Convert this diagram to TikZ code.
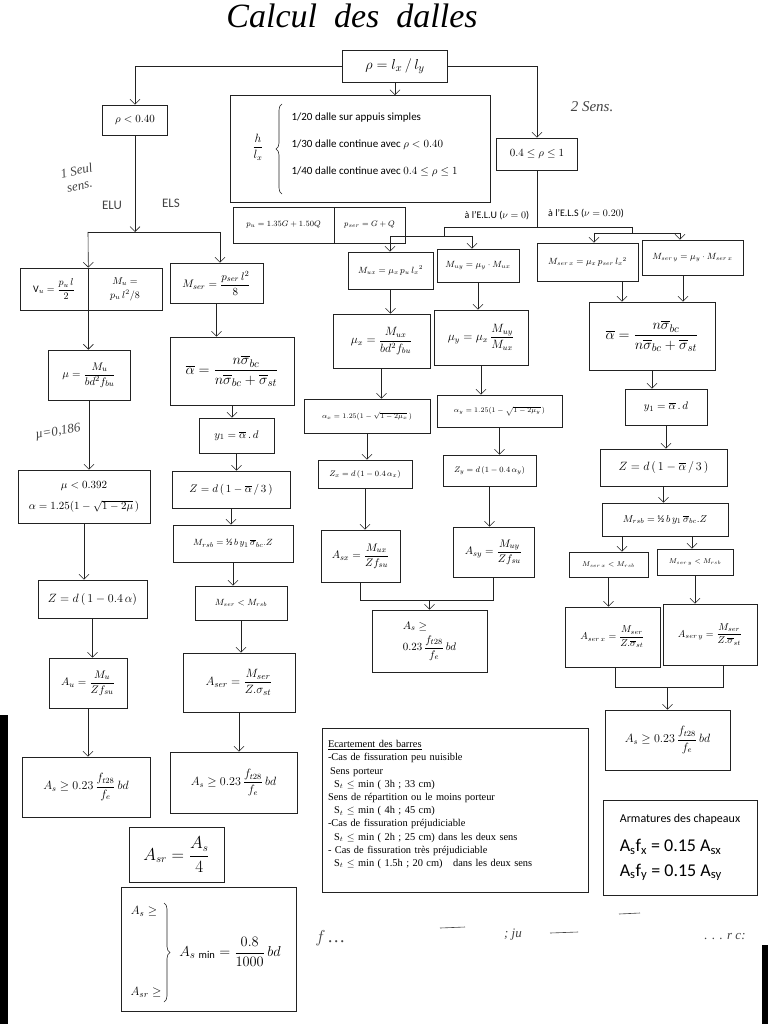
\documentclass[tikz,border=0pt]{standalone}
\usepackage{amsmath,amssymb}
\usepackage{fontspec}
\setmainfont{Carlito}
\newfontfamily\hand{Liberation Serif}
\newfontfamily\ecfont{Liberation Serif}
\usepackage{tikz}
\usepackage{xcolor}
\usetikzlibrary{arrows.meta,positioning,decorations.pathreplacing}
\definecolor{ink}{HTML}{222222}
\definecolor{pencil}{HTML}{444444}
\newcommand{\fs}[1]{\fontsize{#1}{#1}\selectfont}

\tikzset{
  box/.style={draw=ink,line width=0.7pt,inner sep=2pt,align=center,font=\fs{10}},
  arr/.style={draw=ink,line width=0.6pt,-{Straight Barb[length=5pt,width=10pt]}},
  wire/.style={draw=ink,line width=0.6pt},
  note/.style={font=\hand\itshape\fs{13},text=pencil},
  brc/.style={draw=ink,line width=0.6pt,decorate,decoration={brace,amplitude=6pt}}
}

\begin{document}
\begin{tikzpicture}[x=1pt,y=-1pt]
\useasboundingbox (0,0) rectangle (768,1024);
\fill[white] (0,0) rectangle (768,1024);
% scan edges
\fill[black] (0,715) rectangle (8,1024);
\fill[black] (762,945) rectangle (768,1024);

% title and top split
\node (title) at (352,16) [font=\hand\itshape\fs{34}] {Calcul\ \ des\ \ dalles};
\node (rho) at (395,66) [box,minimum width=105,minimum height=32,font=\fs{15}] {$\rho = l_x\,/\,l_y$};
\node (rhoA) at (135,120) [box,minimum width=65,minimum height=30,font=\fs{11}] {$\rho < 0.40$};
\node (rhoB) at (537,154) [box,minimum width=81,minimum height=32,font=\fs{11}] {$0.4 \leq \rho \leq 1$};
\node (hlx) at (360,149) [box,minimum width=260,minimum height=107] {};
\node (hfrac) at (258,147) [font=\fs{12}] {$\dfrac{h}{l_x}$};
\draw[brc] (282,194) -- (282,104);
\node (h20) at (288,118) [anchor=west,font=\fs{11}] {1/20 dalle sur appuis simples};
\node (h30) at (288,145) [anchor=west,font=\fs{11}] {1/30 dalle continue avec $\rho<0.40$};
\node (h40) at (288,172) [anchor=west,font=\fs{11}] {1/40 dalle continue avec $0.4\leq\rho\leq1$};
\node (pu) at (283.5,225) [box,minimum width=101,minimum height=36,font=\fs{8}] {$p_u = 1.35G + 1.50Q$};
\node (pser) at (369.5,225) [box,minimum width=71,minimum height=36,font=\fs{8}] {$p_{ser} = G + Q$};

\node (n1) at (78,178) [note,rotate=12,align=center] {1 Seul\\[2pt] sens.};
\node (n2) at (592,107) [note,font=\hand\itshape\fs{15}] {2 Sens.};
\node (elu) at (112,205) [font=\fs{13},text=pencil] {ELU};
\node (els) at (171,203) [font=\fs{13},text=pencil] {ELS};
\node (lelu) at (497,216) [font=\fs{10}] {à l'E.L.U ($\nu = 0$)};
\node (lels) at (586,214) [font=\fs{10}] {à l'E.L.S ($\nu = 0.20$)};

\draw[arr] (rho.west) -| (rhoA.north);
\draw[arr] (rho.east) -| (rhoB.north);
\draw[arr] (rho.south) -- (rho.south |- hlx.north);

% one way slab
\node (vu) at (54,289) [box,minimum width=68,minimum height=42] {$\mathrm{V}_u = \dfrac{p_u\,l}{2}$};
\node (mu) at (125,289) [box,minimum width=74,minimum height=42] {$M_u =$\\[4pt] $p_u\,l^2/8$};
\node (mser) at (216.5,283) [box,minimum width=93,minimum height=40,font=\fs{11}] {$M_{ser} = \dfrac{p_{ser}\,l^2}{8}$};

\coordinate (sl) at (88,232);
\coordinate (sr) at (220,232);
\draw[arr] (rhoA.south) -- (rhoA.south |- sl);
\draw[wire] (sl) -- (sr);
\draw[arr] (sl) -- (vu.north east);
\draw[arr] (sr) -- (sr |- mser.north);

\node (mured) at (89,375) [box,minimum width=82,minimum height=50,font=\fs{11}] {$\mu = \dfrac{M_u}{b d^2 f_{bu}}$};
\node (mulim) at (84,496.5) [box,minimum width=132,minimum height=53,font=\fs{10.5}] {$\mu < 0.392$\\[9pt] $\alpha = 1.25(1 - \sqrt{1-2\mu}\,)$};
\node (zu) at (92.5,599) [box,minimum width=109,minimum height=38,font=\fs{12}] {$Z = d\,(\,1 - 0.4\,\alpha)$};
\node (au) at (88,683) [box,minimum width=78,minimum height=50,font=\fs{11}] {$A_u = \dfrac{M_u}{Z f_{su}}$};
\node (asminL) at (86,787) [box,minimum width=128,minimum height=60,font=\fs{12}] {$A_s \geq 0.23\,\dfrac{f_{t28}}{f_e}\,bd$};
\node (n3) at (58,432) [note,rotate=10] {µ=0,186};

\draw[arr] (vu.south east) -- (vu.south east |- mured.north);
\draw[arr] (mured.south) -- (mured.south |- mulim.north);
\draw[arr] (mulim.south) -- (mulim.south |- zu.north);
\draw[arr] (zu.south) -- (zu.south |- au.north);
\draw[arr] (au.south) -- (au.south |- asminL.north);

\node (alpha) at (232,371) [box,minimum width=124,minimum height=68,font=\fs{15}] {$\overline{\alpha} = \dfrac{n\overline{\sigma}_{bc}}{n\overline{\sigma}_{bc} + \overline{\sigma}_{st}}$};
\node (y1) at (236.5,435.5) [box,minimum width=75,minimum height=35,font=\fs{11}] {$y_1 = \overline{\alpha}\,.\,d$};
\node (zs) at (231,489.5) [box,minimum width=118,minimum height=37,font=\fs{11}] {$Z = d\,(\,1 - \overline{\alpha}\,/\,3\,)$};
\node (mrsb) at (233,543.5) [box,minimum width=120,minimum height=37,font=\fs{9.5}] {$M_{rsb} = \text{½}\, b\, y_1\, \overline{\sigma}_{bc}.Z$};
\node (cmp) at (241,603) [box,minimum width=92,minimum height=34,font=\fs{9}] {$M_{ser} < M_{rsb}$};
\node (aser) at (239,682.5) [box,minimum width=112,minimum height=59,font=\fs{13}] {$A_{ser} = \dfrac{M_{ser}}{Z.\sigma_{st}}$};
\node (asminS) at (233.5,782.5) [box,minimum width=127,minimum height=61,font=\fs{12}] {$A_s \geq 0.23\,\dfrac{f_{t28}}{f_e}\,bd$};

\draw[arr] (mser.south) -- (mser.south |- alpha.north);
\draw[arr] (alpha.south) -- (alpha.south |- y1.north);
\draw[arr] (y1.south) -- (y1.south |- zs.north);
\draw[arr] (zs.south) -- (zs.south |- mrsb.north);
\draw[arr] (mrsb.south) -- (mrsb.south |- cmp.north);
\draw[arr] (cmp.south) -- (cmp.south |- aser.north);
\draw[arr] (aser.south) -- (aser.south |- asminS.north);

\node (asr) at (176.5,854.5) [box,minimum width=95,minimum height=55,font=\fs{16}] {$A_{sr} = \dfrac{A_s}{4}$};
\node (asmin) at (208.5,949) [box,minimum width=175,minimum height=124] {};
\node (asmtop) at (144,911) [font=\fs{13}] {$A_s \geq$};
\node (asmbot) at (146,992) [font=\fs{13}] {$A_{sr} \geq$};
\draw[brc] (164,903) -- (164,1002);
\node (asmf) at (230,952) [font=\fs{15}] {$A_{s\,\min} = \dfrac{0.8}{1000}\,bd$};

% two way slab, ELU
\node (mux) at (390.5,270.5) [box,minimum width=85,minimum height=37,font=\fs{9}] {$M_{ux} = \mu_x\, p_u\, {l_x}^2$};
\node (muy) at (478,265.5) [box,minimum width=82,minimum height=33,font=\fs{9}] {$M_{uy} = \mu_y \cdot M_{ux}$};
\coordinate (tl) at (444,227);
\coordinate (tr) at (632,227);
\coordinate (mbl) at (390,236);
\coordinate (mbr) at (472,236);
\draw[wire] (rhoB.south) -- (rhoB.south |- tl);
\draw[wire] (tl) -- (tr);
\draw[wire] (tl) -- (tl |- mbl);
\draw[wire] (mbl) -- (mbr);
\draw[arr] (mbl) -- (mbl |- mux.north);
\draw[arr] (mbr) -- (mbr |- muy.north);

\node (mux2) at (381.5,341) [box,minimum width=97,minimum height=54,font=\fs{11.5}] {$\mu_x = \dfrac{M_{ux}}{b d^2 f_{bu}}$};
\node (muy2) at (481,337.5) [box,minimum width=94,minimum height=55,font=\fs{12}] {$\mu_y = \mu_x\,\dfrac{M_{uy}}{M_{ux}}$};
\node (alx) at (367,416) [box,minimum width=126,minimum height=34,font=\fs{7.5}] {$\alpha_x = 1.25(1 - \sqrt{1-2\mu_x}\,)$};
\node (aly) at (499.5,411) [box,minimum width=125,minimum height=32,font=\fs{7.5}] {$\alpha_y = 1.25(1 - \sqrt{1-2\mu_y}\,)$};
\node (zx) at (365,474) [box,minimum width=94,minimum height=28,font=\fs{8}] {$Z_x = d\,(1 - 0.4\,\alpha_x)$};
\node (zy) at (489.5,470.5) [box,minimum width=93,minimum height=31,font=\fs{8}] {$Z_y = d\,(1 - 0.4\,\alpha_y)$};
\node (asx) at (360.5,556) [box,minimum width=79,minimum height=52,font=\fs{11}] {$A_{sx} = \dfrac{M_{ux}}{Z f_{su}}$};
\node (asy) at (493.5,552) [box,minimum width=81,minimum height=50,font=\fs{11}] {$A_{sy} = \dfrac{M_{uy}}{Z f_{su}}$};
\node (asminM) at (429.5,641) [box,minimum width=115,minimum height=62,align=left,font=\fs{11}] {$A_s \geq$\\[4pt] $0.23\,\dfrac{f_{t28}}{f_e}\,bd$};

\draw[arr] (mux.south) -- (mux.south |- mux2.north);
\draw[arr] (muy.south) -- (muy.south |- muy2.north);
\draw[arr] (mux2.south) -- (mux2.south |- alx.north);
\draw[arr] (muy2.south) -- (muy2.south |- aly.north);
\draw[arr] (alx.south) -- (alx.south |- zx.north);
\draw[arr] (aly.south) -- (aly.south |- zy.north);
\draw[arr] (zx.south) -- (zx.south |- asx.north);
\draw[arr] (zy.south) -- (zy.south |- asy.north);
\draw[wire] (asx.south) -- ++(0,18) coordinate (jm) -| (asy.south);
\draw[arr] (asminM.north |- jm) -- (asminM.north);

% two way slab, ELS
\node (mserx) at (587.5,262) [box,minimum width=101,minimum height=38,font=\fs{9}] {$M_{ser\,x} = \mu_x\, p_{ser}\, {l_x}^2$};
\node (msery) at (692.5,257.5) [box,minimum width=101,minimum height=35,font=\fs{9}] {$M_{ser\,y} = \mu_y \cdot M_{ser\,x}$};
\coordinate (rbl) at (594,233);
\coordinate (rbr) at (680,233);
\draw[wire] (tr) -- (tr |- rbl);
\draw[wire] (rbl) -- (rbr);
\draw[arr] (rbl) -- (rbl |- mserx.north);
\draw[arr] (rbr) -- (rbr |- msery.north);

\node (alphaR) at (652,336) [box,minimum width=126,minimum height=68,font=\fs{15}] {$\overline{\alpha} = \dfrac{n\overline{\sigma}_{bc}}{n\overline{\sigma}_{bc} + \overline{\sigma}_{st}}$};
\node (y1R) at (666,407) [box,minimum width=82,minimum height=36,font=\fs{11}] {$y_1 = \overline{\alpha}\,.\,d$};
\node (zR) at (663.5,467.5) [box,minimum width=127,minimum height=37,font=\fs{13}] {$Z = d\,(\,1 - \overline{\alpha}\,/\,3\,)$};
\node (mrsbR) at (665,519.5) [box,minimum width=126,minimum height=33,font=\fs{10}] {$M_{rsb} = \text{½}\, b\, y_1\, \overline{\sigma}_{bc}.Z$};
\node (cmpx) at (608.5,564.5) [box,minimum width=79,minimum height=25,font=\fs{7.5}] {$M_{ser\,x} < M_{rsb}$};
\node (cmpy) at (695,562) [box,minimum width=76,minimum height=26,font=\fs{7.5}] {$M_{ser\,y} < M_{rsb}$};
\node (aserx) at (612.5,637) [box,minimum width=95,minimum height=60,font=\fs{10}] {$A_{ser\,x} = \dfrac{M_{ser}}{Z.\overline{\sigma}_{st}}$};
\node (asery) at (710,634.5) [box,minimum width=94,minimum height=61,font=\fs{10}] {$A_{ser\,y} = \dfrac{M_{ser}}{Z.\overline{\sigma}_{st}}$};
\node (asminR) at (667.5,740) [box,minimum width=125,minimum height=60,font=\fs{12}] {$A_s \geq 0.23\,\dfrac{f_{t28}}{f_e}\,bd$};

\draw[arr] ([xshift=34.5pt]mserx.south) -- ([xshift=34.5pt]mserx.south |- alphaR.north);
\draw[arr] ([xshift=-9.5pt]msery.south) -- ([xshift=-9.5pt]msery.south |- alphaR.north);
\draw[arr] (alphaR.south) -- (alphaR.south |- y1R.north);
\draw[arr] (y1R.south) -- (y1R.south |- zR.north);
\draw[arr] (zR.south) -- (zR.south |- mrsbR.north);
\draw[arr] ([xshift=-43pt]mrsbR.south) -- ([xshift=-43pt]mrsbR.south |- cmpx.north);
\draw[arr] ([xshift=27pt]mrsbR.south) -- ([xshift=27pt]mrsbR.south |- cmpy.north);
\draw[arr] (cmpx.south) -- (cmpx.south |- aserx.north);
\draw[arr] (cmpy.south) -- (cmpy.south |- asery.north);
\draw[wire] ([xshift=2.5pt]aserx.south) -- ++(0,20) coordinate (jr) -| ([xshift=13pt]asery.south);
\draw[arr] (asminR.north |- jr) -- (asminR.north);

% spacing and top bars
\node (ecart) at (455,810) [box,minimum width=266,minimum height=164,text width=254,align=left,
  font=\ecfont\fontsize{10.4}{13.2}\selectfont]
  {\underline{Ecartement des barres}\\
   -Cas de fissuration peu nuisible\\
   \hspace{2pt}Sens porteur\\
   \hspace{6pt}S$_t$ $\leq$ min ( 3h ; 33 cm)\\
   Sens de répartition ou le moins porteur\\
   \hspace{6pt}S$_t$ $\leq$ min ( 4h ; 45 cm)\\
   -Cas de fissuration préjudiciable\\
   \hspace{6pt}S$_t$ $\leq$ min ( 2h ; 25 cm) dans les deux sens\\
   - Cas de fissuration très préjudiciable\\
   \hspace{6pt}S$_t$ $\leq$ min ( 1.5h ; 20 cm)\quad dans les deux sens\\
   \mbox{}};
\node (chap) at (680,847.5) [box,minimum width=154,minimum height=95,align=left,font=\fs{12}]
  {Armatures des chapeaux\\[14pt]
   {\fs{18}A\textsubscript{s}f\textsubscript{x} = 0.15 A\textsubscript{sx}}\\[8pt]
   {\fs{18}A\textsubscript{s}f\textsubscript{y} = 0.15 A\textsubscript{sy}}};

% pencil marks at the bottom
\node (n4) at (330,938) [note,font=\hand\itshape\fs{18}] {$f$\,\dots};
\draw[pencil,line width=0.6pt] (440,928) -- (465,927);
\node (n5) at (513,935) [note] {; ju};
\draw[pencil,line width=0.6pt] (550,933) -- (578,932);
\draw[pencil,line width=0.6pt] (619,914) -- (640,913);
\node (n6) at (725,937) [note] {. . . r c:};
\end{tikzpicture}
\end{document}
